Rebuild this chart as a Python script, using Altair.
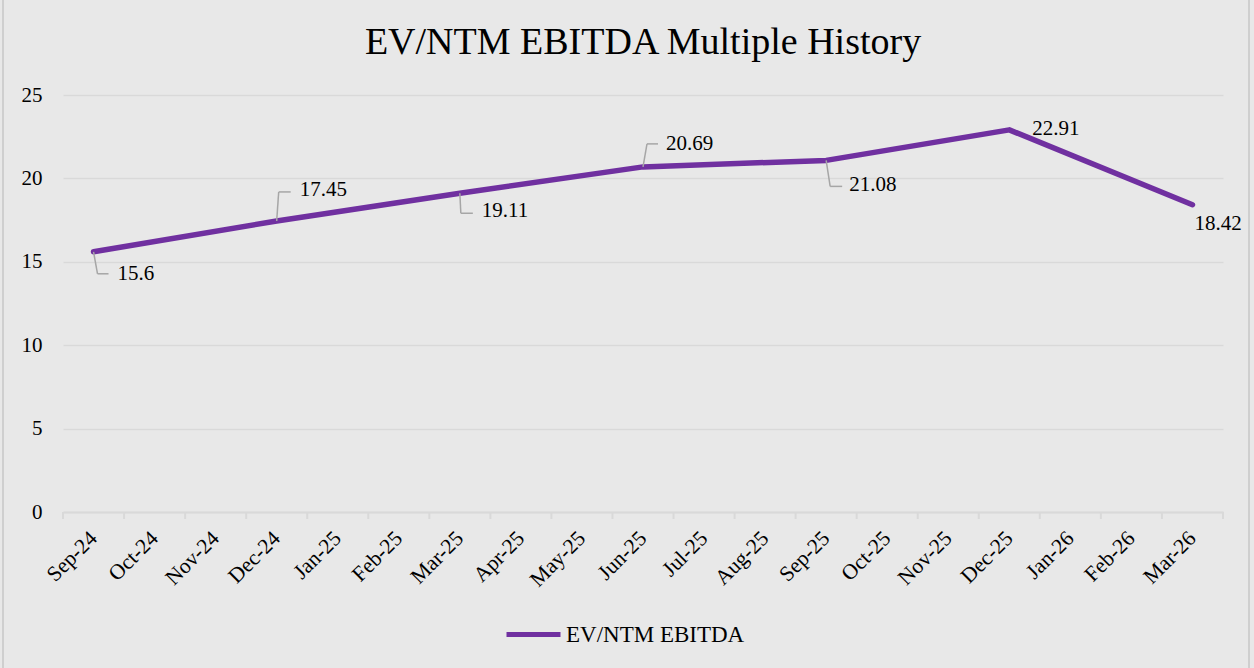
import json
import altair as alt
import pandas as pd

# ---------------- data ----------------
months = ["Sep-24", "Oct-24", "Nov-24", "Dec-24", "Jan-25", "Feb-25", "Mar-25",
          "Apr-25", "May-25", "Jun-25", "Jul-25", "Aug-25", "Sep-25", "Oct-25",
          "Nov-25", "Dec-25", "Jan-26", "Feb-26", "Mar-26"]
data_months = ["Sep-24", "Dec-24", "Mar-25", "Jun-25", "Sep-25", "Dec-25", "Mar-26"]
values = [15.6, 17.45, 19.11, 20.69, 21.08, 22.91, 18.42]
value_labels = ["15.6", "17.45", "19.11", "20.69", "21.08", "22.91", "18.42"]
series_name = "EV/NTM EBITDA"
y_ticks = [0, 5, 10, 15, 20, 25]
title_text = "EV/NTM EBITDA Multiple History"

# ---------------- label placement (pixels, layout only) ----------------
# month: (leader corner dx, corner dy, leader end dx, text dx, text dy) ; None corner => no leader
placement = {
    "Sep-24": (4, 22, 15, 24, 22),
    "Dec-24": (2, -29, 14, 23, -31),
    "Mar-25": (1, 20, 13, 22, 18),
    "Jun-25": (4, -23, 15, 23, -23),
    "Sep-25": (4, 26, 16, 23, 25),
    "Dec-25": (None, None, None, 23, -1),
    "Mar-26": (None, None, None, 2, 19),
}

FONT = "Liberation Serif"
PURPLE = "#7030a0"
GRID = "#d9d9d9"
LEADER = "#a6a6a6"
W, H = 1160, 417
PAD_L, PAD_T = 63, 95

df = pd.DataFrame({"month": data_months, "value": values,
                   "label": value_labels, "series": series_name})
df["pos"] = [months.index(m) + 0.5 for m in data_months]
bounds_df = pd.DataFrame({"pos": list(range(len(months) + 1))})
one = pd.DataFrame({"t": [title_text]})

xscale = alt.Scale(domain=[0, len(months)], nice=False, zero=False)
yscale = alt.Scale(domain=[0, 25], nice=False)

base = alt.Chart(df)

x_axis = alt.Axis(
    values=[i + 0.5 for i in range(len(months))],
    labelExpr=f"{json.dumps(months)}[floor(datum.value)]",
    labelAngle=-45, labelAlign="right", labelBaseline="middle",
    labelFont=FONT, labelFontSize=21.5, labelColor="black", labelPadding=23,
    ticks=False, grid=False, domain=True, domainColor=GRID, domainWidth=2,
    labelOverlap=False,
)
y_axis = alt.Axis(
    values=y_ticks, grid=True, gridColor=GRID, gridWidth=1.5,
    domain=False, ticks=False, labelFont=FONT, labelFontSize=21,
    labelColor="black", labelPadding=21,
)

X = lambda: alt.X("pos:Q", title=None)
Y = lambda: alt.Y("value:Q", title=None)

line = base.mark_line(strokeWidth=5.5, strokeCap="round", strokeJoin="round").encode(
    x=alt.X("pos:Q", scale=xscale, axis=x_axis, title=None),
    y=alt.Y("value:Q", scale=yscale, axis=y_axis, title=None),
    color=alt.Color(
        "series:N", scale=alt.Scale(range=[PURPLE]),
        legend=alt.Legend(
            orient="none", legendX=441, legendY=510, title=None,
            symbolType="stroke", symbolStrokeWidth=5, symbolSize=2916,
            labelFont=FONT, labelFontSize=23, labelColor="black",
            labelOffset=3, padding=0, labelLimit=600,
        ),
    ),
)

ticks = alt.Chart(bounds_df).mark_rule(color=GRID, strokeWidth=2).encode(
    x=X(),
    y=alt.value(H),
    y2=alt.value(H + 7),
)

layers = [ticks]
texts = []
for m, (cx, cy, ex, tx, ty) in placement.items():
    sub = base.transform_filter(alt.datum.month == m)
    if cx is not None:
        vert = sub.mark_rule(color=LEADER, strokeWidth=1.5,
                             xOffset=0, x2Offset=cx, yOffset=0, y2Offset=cy).encode(
            x=X(), x2="pos:Q", y=Y(), y2="value:Q",
        )
        hor = sub.mark_rule(color=LEADER, strokeWidth=1.5,
                            xOffset=cx, x2Offset=ex, yOffset=cy, y2Offset=cy).encode(
            x=X(), x2="pos:Q", y=Y(), y2="value:Q",
        )
        layers += [vert, hor]
    txt = sub.mark_text(align="left", baseline="middle", dx=tx, dy=ty,
                        font=FONT, fontSize=21, color="black").encode(
        x=X(), y=Y(), text="label:N",
    )
    texts.append(txt)

title = alt.Chart(one).mark_text(align="center", baseline="alphabetic",
                                 font=FONT, fontSize=38, color="black").encode(
    x=alt.value(W / 2), y=alt.value(54 - PAD_T), text="t:N")

border_l = alt.Chart(one).mark_rule(color="#cfcfcf", strokeWidth=2).encode(
    x=alt.value(-PAD_L + 3), y=alt.value(-PAD_T), y2=alt.value(668 - PAD_T))
border_r = alt.Chart(one).mark_rule(color="#cfcfcf", strokeWidth=2).encode(
    x=alt.value(1249 - PAD_L), y=alt.value(-PAD_T), y2=alt.value(668 - PAD_T))

chart = alt.layer(line, *layers, *texts, title, border_l, border_r).properties(
    width=W, height=H,
    autosize=alt.AutoSizeParams(type="none"),
    padding={"left": PAD_L, "top": PAD_T, "right": 1254 - PAD_L - W,
             "bottom": 668 - PAD_T - H},
    background="#e8e8e8",
).configure_view(stroke=None)

chart.save("out.html", embed_options={"renderer": "svg", "actions": False})
